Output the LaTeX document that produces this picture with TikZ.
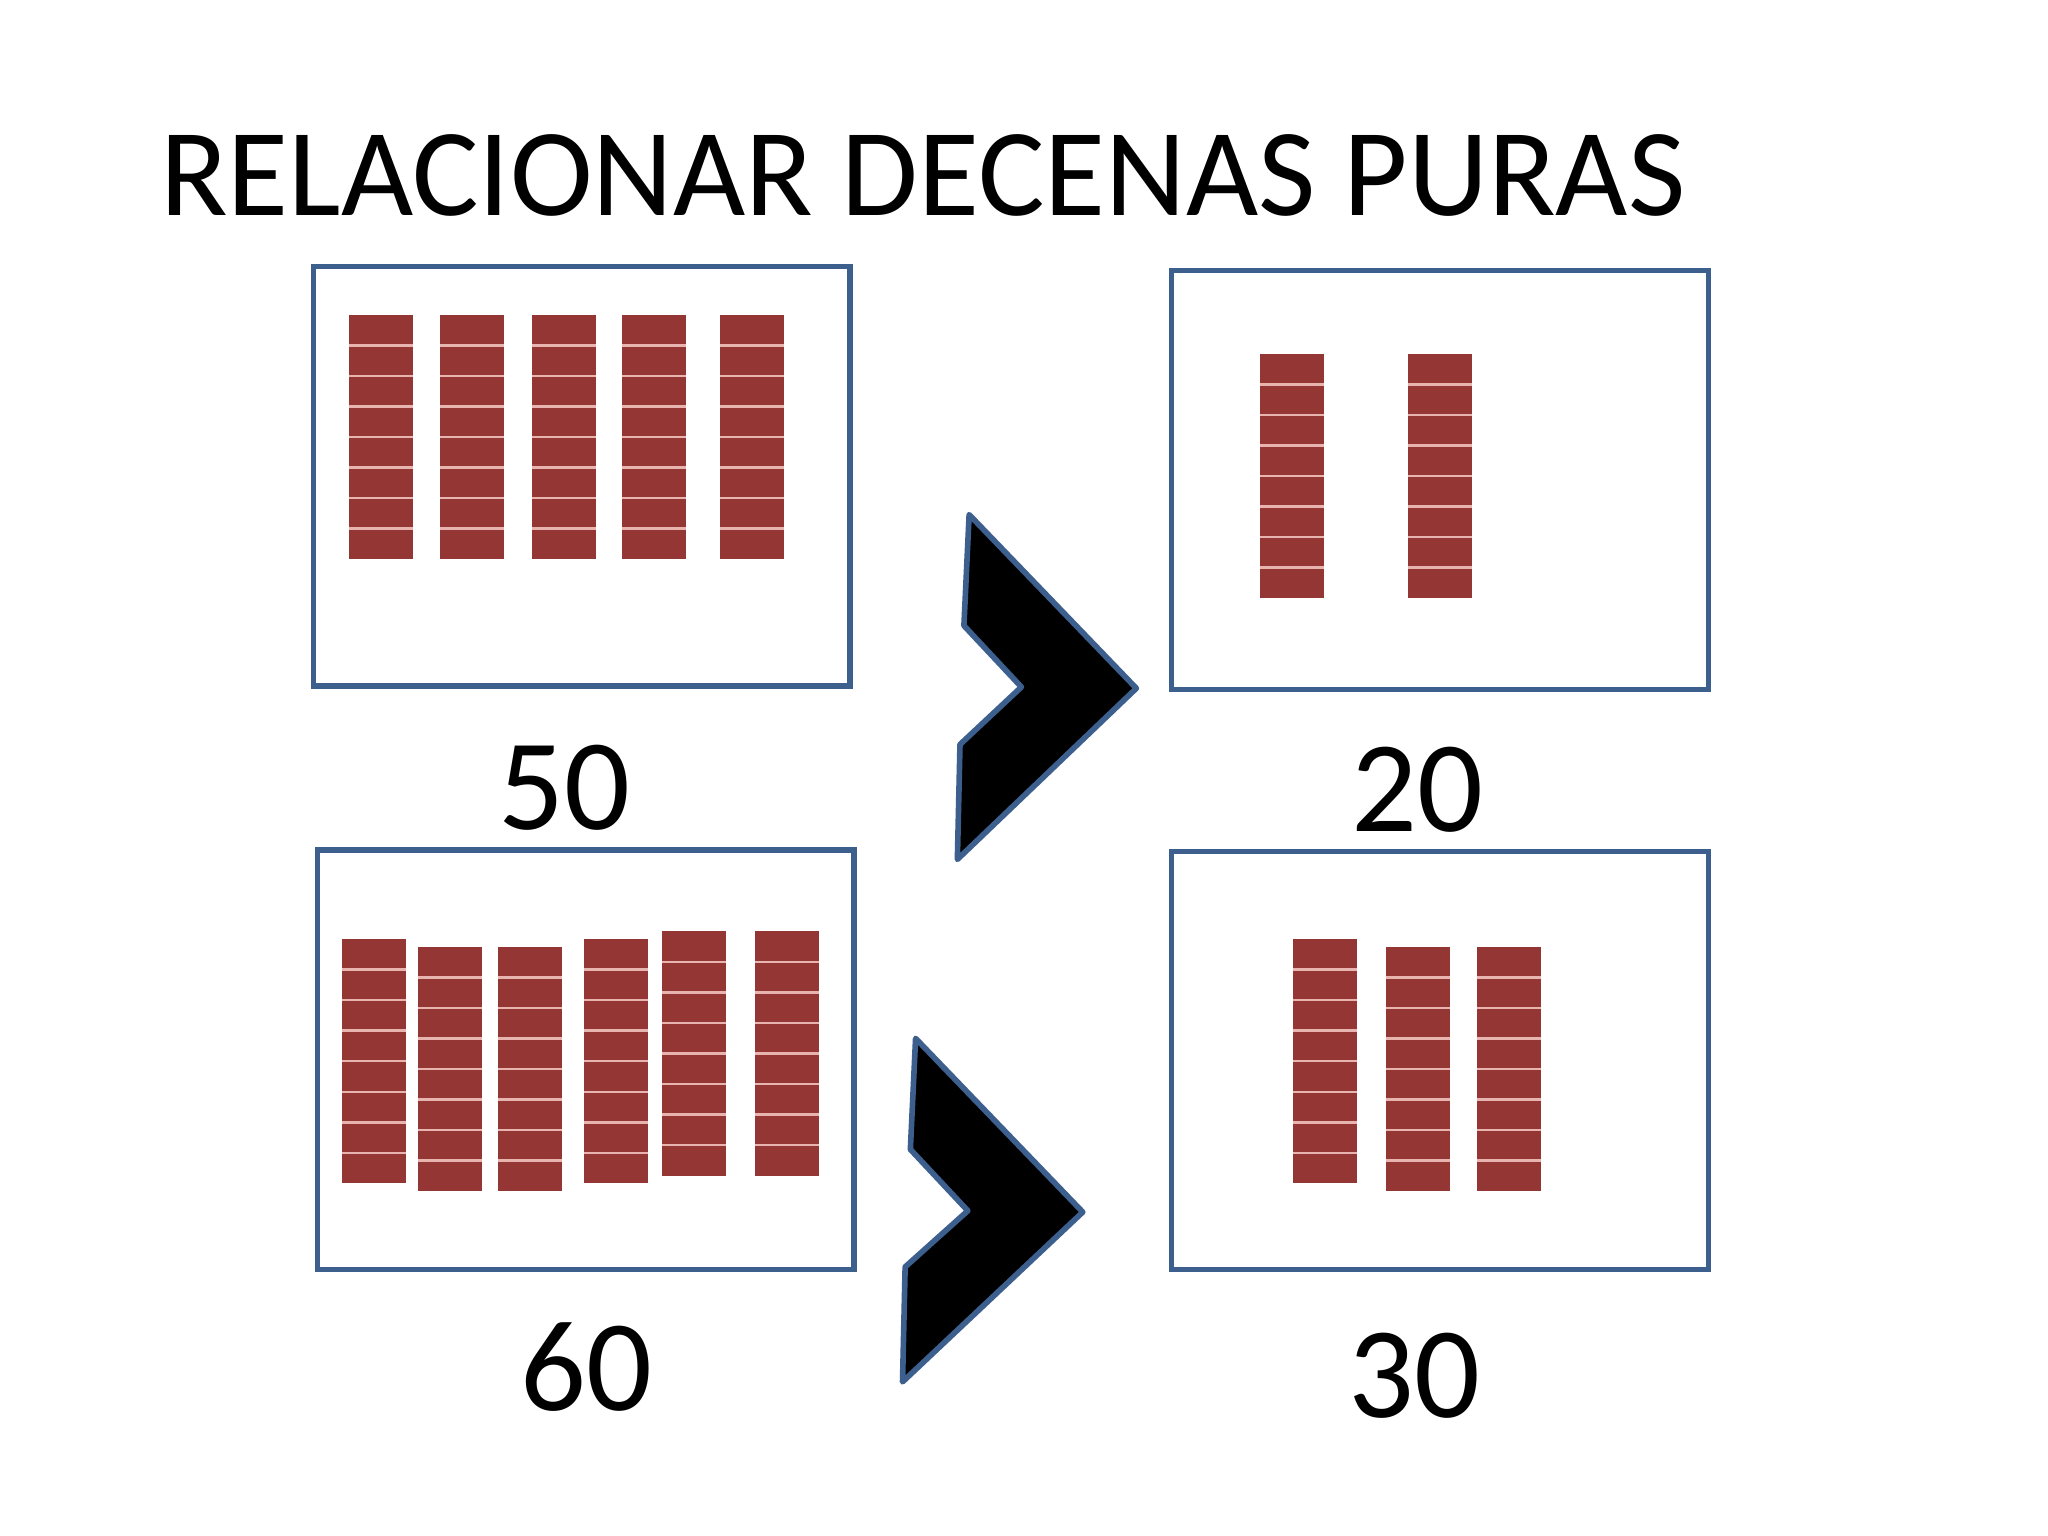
\documentclass[tikz,border=0pt]{standalone}
\usepackage{fontspec}
\setmainfont{Carlito}
\usepackage{tikz}
\usetikzlibrary{calc}

\definecolor{marco}{HTML}{3C5F8E}
\definecolor{ladrillo}{HTML}{943634}
\definecolor{rosado}{HTML}{E8B4B0}

\tikzset{
	caja/.style={draw=marco, line width=1.6pt},
	decena/.style={fill=ladrillo},
	raya/.style={draw=rosado, line width=0.7pt},
	flecha/.style={fill=black, draw=marco, line width=1.6pt, line join=round},
	numero/.style={anchor=base, font=\fontsize{37}{40}\selectfont, inner sep=0pt}
}

% una barra de diez
\newcommand{\decenabar}[2]{
	\fill[decena] (#1,#2) rectangle ++(49,187);
	\foreach \k in {1,...,7}
		\draw[raya] (#1,#2+\k*23.375) -- ++(49,0);
}

\begin{document}
\begin{tikzpicture}[x=0.013061cm, y=-0.013061cm]
		\useasboundingbox[fill=white] (0,0) rectangle (1568,1176);

		\node [anchor=base west, inner sep=0pt, font=\fontsize{35.5}{40}\selectfont] (titulo) at (122,165) {RELACIONAR DECENAS PURAS};

		\begin{scope}
			\draw [caja] (240,204) rectangle (651,525);
			\decenabar{267}{241}
			\decenabar{337}{241}
			\decenabar{407}{241}
			\decenabar{476}{241}
			\decenabar{551}{241}
			\node [numero] (cincuenta) at (432,635) {50};
		\end{scope}

		\begin{scope}
			\draw [caja] (897,207) rectangle (1308,528);
			\decenabar{965}{271}
			\decenabar{1078}{271}
			\node [numero] (veinte) at (1085,637) {20};
		\end{scope}

		\begin{scope}
			\draw [caja] (243,651) rectangle (654,972);
			\decenabar{262}{719}
			\decenabar{320}{725}
			\decenabar{381}{725}
			\decenabar{447}{719}
			\decenabar{507}{713}
			\decenabar{578}{713}
			\node [numero] (sesenta) at (449,1080) {60};
		\end{scope}

		\begin{scope}
			\draw [caja] (897,652) rectangle (1308,972);
			\decenabar{990}{719}
			\decenabar{1061}{725}
			\decenabar{1131}{725}
			\node [numero] (treinta) at (1083,1085) {30};
		\end{scope}

		\begin{scope}
			\draw [flecha] (742,394) -- (870,527) -- (733,658) -- (735,570) -- (782,526) -- (738,479) -- cycle;
			\draw [flecha] (701,795) -- (829,928) -- (691,1058) -- (693,970) -- (741,927) -- (697,880) -- cycle;
		\end{scope}
	\end{tikzpicture}
\end{document}
